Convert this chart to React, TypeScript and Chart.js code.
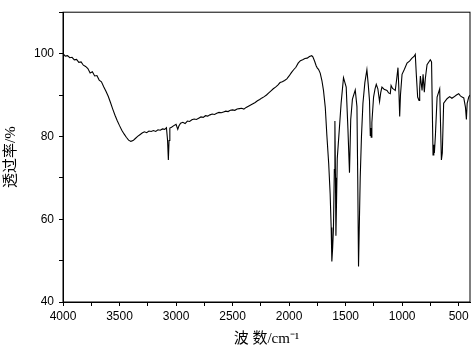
import React, { useEffect, useRef } from "react";
import { Chart, registerables } from "chart.js";

Chart.register(...registerables);

// Wavenumbers (cm^-1) and transmittance (%)
const wavenumbers: number[] = [
  4000, 3980, 3960, 3940, 3920, 3900, 3880, 3860, 3840, 3820, 3800, 3780, 3760, 3740, 3720, 3700,
  3680, 3660, 3640, 3620, 3600, 3580, 3560, 3540, 3520, 3500, 3480, 3460, 3440, 3420, 3400, 3380,
  3360, 3340, 3320, 3300, 3280, 3260, 3240, 3220, 3200, 3180, 3160, 3140, 3120, 3100, 3085, 3075,
  3068, 3062, 3055, 3040, 3020, 3000, 2985, 2975, 2960, 2940, 2920, 2900, 2880, 2860, 2840, 2820,
  2800, 2780, 2760, 2740, 2720, 2700, 2680, 2660, 2640, 2620, 2600, 2580, 2560, 2540, 2520, 2500,
  2480, 2460, 2440, 2420, 2400, 2380, 2360, 2340, 2320, 2300, 2280, 2260, 2240, 2220, 2200, 2180,
  2160, 2140, 2120, 2100, 2080, 2060, 2040, 2020, 2000, 1980, 1960, 1940, 1920, 1900, 1880, 1860,
  1840, 1820, 1800, 1790, 1775, 1760, 1750, 1740, 1725, 1710, 1696, 1680, 1666, 1650, 1637, 1628,
  1622, 1615, 1608, 1600, 1595, 1590, 1586, 1580, 1574, 1556, 1540, 1519, 1495, 1480, 1466, 1455,
  1440, 1415, 1400, 1393, 1386, 1378, 1371, 1360, 1347, 1330, 1312, 1300, 1289, 1282, 1278, 1274,
  1268, 1253, 1240, 1229, 1215, 1200, 1190, 1179, 1160, 1134, 1120, 1105, 1098, 1085, 1070, 1061,
  1050, 1037, 1030, 1022, 1015, 1001, 980, 957, 935, 913, 895, 884, 875, 863, 851, 845,
  839, 824, 815, 804, 795, 780, 751, 740, 727, 720, 715, 706, 691, 668, 653, 645,
  633, 603, 580, 560, 544, 520, 500, 485, 470, 455, 440, 432, 425, 411, 400,
];

const transmittance: number[] = [
  100.0, 99.4, 99.5, 99.0, 99.1, 98.5, 98.6, 97.9, 98.0, 97.2, 96.9, 96.4, 95.3, 95.6, 94.6, 94.7,
  93.6, 93.2, 92.0, 90.9, 89.7, 88.2, 86.6, 85.1, 83.8, 82.6, 81.5, 80.6, 79.8, 79.1, 78.8, 79.0,
  79.5, 80.0, 80.4, 80.8, 81.1, 80.9, 81.3, 81.2, 81.4, 81.2, 81.6, 81.5, 81.8, 81.7, 82.1, 79.0,
  74.3, 79.0, 82.0, 82.2, 82.6, 82.9, 81.7, 82.5, 83.2, 83.4, 83.1, 83.7, 83.6, 84.0, 84.2, 84.1,
  84.4, 84.7, 84.6, 85.0, 84.9, 85.2, 85.4, 85.3, 85.6, 85.8, 85.7, 85.9, 86.1, 86.0, 86.3, 86.4,
  86.3, 86.6, 86.7, 86.8, 86.6, 87.0, 87.3, 87.6, 87.9, 88.2, 88.6, 88.9, 89.3, 89.6, 90.0, 90.5,
  91.0, 91.5, 91.9, 92.4, 93.0, 93.2, 93.5, 93.9, 94.6, 95.4, 96.1, 96.7, 97.7, 98.3, 98.5, 98.8,
  98.9, 99.3, 99.5, 99.2, 98.2, 97.0, 96.5, 96.2, 95.3, 93.5, 91.1, 87.0, 80.2, 73.5, 66.1, 58.0,
  49.8, 53.0, 57.5, 72.0, 83.7, 70.0, 56.0, 65.0, 74.7, 81.7, 88.0, 94.2, 91.9, 82.0, 71.2, 84.1,
  89.0, 91.2, 87.2, 70.0, 48.6, 60.0, 70.1, 80.0, 88.0, 93.0, 96.1, 92.5, 88.7, 80.2, 82.0, 79.8,
  83.3, 89.5, 91.5, 92.6, 91.5, 88.4, 90.5, 91.9, 91.4, 91.1, 90.5, 90.3, 92.3, 91.6, 91.3, 91.1,
  93.5, 96.6, 92.0, 84.8, 90.0, 95.0, 96.2, 97.7, 98.2, 98.9, 99.3, 99.8, 95.0, 89.5, 88.7, 91.5,
  94.6, 91.1, 95.0, 90.7, 94.0, 97.3, 98.5, 98.0, 75.5, 78.0, 76.0, 80.2, 89.5, 91.5, 74.3, 76.0,
  88.0, 89.1, 89.6, 89.2, 89.5, 90.0, 90.3, 89.8, 89.5, 89.3, 87.0, 84.1, 88.0, 89.5, 90.0,
];

const xMin = 400;
const xMax = 4000;
const xTickValues: number[] = [4000, 3750, 3500, 3250, 3000, 2750, 2500, 2250, 2000, 1750, 1500, 1250, 1000, 750, 500];
const xLabelStep = 500;
const yMin = 40;
const yMax = 110;
const yStep = 10;
const yLabelStep = 20;

const xTitle = "波 数/cm⁻¹";
const yTitle = "透过率/%";

const framePlugin = {
  id: "frame",
  afterDraw(chart: any) {
    const { ctx, chartArea } = chart;
    ctx.save();
    ctx.strokeStyle = "#000";
    ctx.lineWidth = 1;
    ctx.strokeRect(chartArea.left, chartArea.top, chartArea.right - chartArea.left, chartArea.bottom - chartArea.top);
    ctx.restore();
  },
};

export default function App() {
  const canvasRef = useRef<HTMLCanvasElement | null>(null);

  useEffect(() => {
    if (!canvasRef.current) return;
    const points = wavenumbers.map((x, i) => ({ x, y: transmittance[i] }));
    const tickFont = { family: "'Liberation Sans', Arial, sans-serif", size: 12 };
    const titleFont = { family: "'Liberation Serif', 'Noto Sans CJK SC', serif", size: 15 };
    const chart = new Chart(canvasRef.current, {
      type: "line",
      data: {
        datasets: [
          {
            data: points,
            borderColor: "#000",
            borderWidth: 1.1,
            pointRadius: 0,
            tension: 0,
            fill: false,
          },
        ],
      },
      options: {
        responsive: false,
        animation: false,
        layout: { padding: { top: 2, right: 4, left: 0, bottom: 0 } },
        plugins: { legend: { display: false }, tooltip: { enabled: false } },
        scales: {
          x: {
            type: "linear",
            reverse: true,
            min: xMin,
            max: xMax,
            afterBuildTicks: (s: any) => {
              s.ticks = xTickValues.map((v) => ({ value: v }));
            },
            afterFit: (s: any) => {
              s.height = 51;
            },
            ticks: {
              autoSkip: false,
              maxRotation: 0,
              color: "#000",
              font: tickFont,
              padding: 3,
              callback: (v: any) => (Number(v) % xLabelStep === 0 ? String(v) : ""),
            },
            grid: { display: true, drawOnChartArea: false, drawTicks: true, tickLength: 4, color: "#000" },
            border: { display: true, color: "#000", width: 1 },
            title: { display: true, text: xTitle, color: "#000", font: titleFont, padding: { top: 0, bottom: 5 } },
          },
          y: {
            type: "linear",
            min: yMin,
            max: yMax,
            afterFit: (s: any) => {
              s.width = 63;
            },
            ticks: {
              stepSize: yStep,
              color: "#000",
              font: tickFont,
              padding: 5,
              callback: (v: any) => (Number(v) % yLabelStep === 0 ? String(v) : ""),
            },
            grid: { display: true, drawOnChartArea: false, drawTicks: true, tickLength: 4, color: "#000" },
            border: { display: true, color: "#000", width: 1 },
            title: { display: true, text: yTitle, color: "#000", font: titleFont, padding: { top: 2, bottom: 0 } },
          },
        },
      },
      plugins: [framePlugin],
    });
    return () => chart.destroy();
  }, []);

  return (
    <div style={{ position: "absolute", left: 0, top: 0, width: 474, height: 353, background: "#fff" }}>
      <canvas ref={canvasRef} width={474} height={353} style={{ display: "block" }} />
    </div>
  );
}
